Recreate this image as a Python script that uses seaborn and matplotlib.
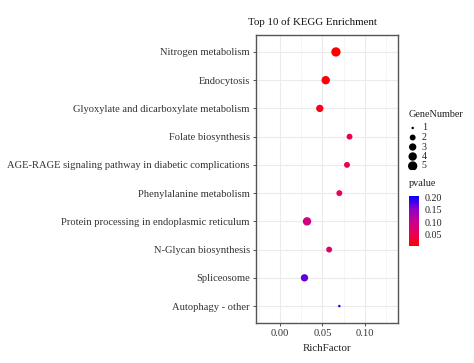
import numpy as np
import pandas as pd
import matplotlib
matplotlib.use("Agg")
import matplotlib.pyplot as plt
import seaborn as sns
from matplotlib.colors import LinearSegmentedColormap, Normalize
from matplotlib.cm import ScalarMappable

# ---- data ----
pathways = [
    "Nitrogen metabolism",
    "Endocytosis",
    "Glyoxylate and dicarboxylate metabolism",
    "Folate biosynthesis",
    "AGE-RAGE signaling pathway in diabetic complications",
    "Phenylalanine metabolism",
    "Protein processing in endoplasmic reticulum",
    "N-Glycan biosynthesis",
    "Spliceosome",
    "Autophagy - other",
]
rich_factor = [0.066, 0.054, 0.047, 0.082, 0.079, 0.070, 0.032, 0.058, 0.029, 0.070]
gene_number = [5, 4, 3, 2, 2, 2, 4, 2, 3, 1]
pvalue = [0.005, 0.010, 0.020, 0.050, 0.052, 0.055, 0.090, 0.070, 0.170, 0.200]
size_levels = [1, 2, 3, 4, 5]
pvalue_ticks = [0.05, 0.10, 0.15, 0.20]

df = pd.DataFrame({"Pathway": pathways, "RichFactor": rich_factor,
                   "GeneNumber": gene_number, "pvalue": pvalue})

# ggplot-like red -> blue gradient (Lab interpolation gives magenta/purple mids)
cmap = LinearSegmentedColormap.from_list(
    "rb", ["#FF0000", "#E8005A", "#C60092", "#8A00CC", "#0000FF"])
pnorm = (0.004, 0.205)


def dot_area(g):
    # area-style size scale: diameter in px, converted to points^2
    d_px = 2.5 + 6.8 * np.sqrt((g - 1) / 4.0)
    return (d_px * 0.72) ** 2


size_map = {g: dot_area(g) for g in size_levels}

plt.rcParams["font.family"] = ["Liberation Serif", "DejaVu Serif"]
fig = plt.figure(figsize=(4.74, 3.63), dpi=100)
ax = fig.add_axes([256 / 474, 1 - 323 / 363, 142 / 474, 288 / 363])

sns.scatterplot(data=df, x="RichFactor", y="Pathway", hue="pvalue",
                size="GeneNumber", sizes=size_map, palette=cmap,
                hue_norm=pnorm, linewidth=0, legend=False, ax=ax, zorder=3)

ax.set_xlim(-0.028, 0.139)
ax.set_ylim(len(pathways) - 0.4, -0.6)
ax.set_xticks([0.0, 0.05, 0.10])
ax.set_xticklabels(["0.00", "0.05", "0.10"])
ax.set_xticks([-0.025, 0.025, 0.075, 0.125], minor=True)
ax.grid(True, which="major", color="#EBEBEB", linewidth=0.8, zorder=0)
ax.grid(True, which="minor", axis="x", color="#F2F2F2", linewidth=0.5, zorder=0)
ax.set_axisbelow(True)
for s in ax.spines.values():
    s.set_color("#555555")
    s.set_linewidth(1.0)
ax.tick_params(axis="both", which="major", length=2.5, width=0.6, color="#333333",
               labelsize=7.6, labelcolor="#333333", pad=2)
ax.tick_params(axis="x", which="minor", length=0)
ax.set_xlabel("RichFactor", fontsize=7.8, color="#222222", labelpad=4)
ax.set_ylabel("")

fig.text(248 / 474, 1 - 22 / 363, "Top 10 of KEGG Enrichment", fontsize=7.8,
         color="#111111", ha="left", va="center")

# ---- size legend ----
fig.text(409 / 474, 1 - 114 / 363, "GeneNumber", fontsize=7.4, color="#222222",
         ha="left", va="center")
lax = fig.add_axes([405 / 474, 1 - 170 / 363, 30 / 474, 47 / 363])
leg_y = [128, 137.5, 147, 156.5, 166]
sns.scatterplot(x=[0] * len(size_levels), y=leg_y, size=size_levels,
                sizes=size_map, color="black", linewidth=0, legend=False, ax=lax)
for g, y in zip(size_levels, leg_y):
    lax.text(1.3, y, str(g), fontsize=7.2, color="#222222", va="center", ha="left")
lax.set_xlim(-1.1, 3.2)
lax.set_ylim(170, 123)
lax.axis("off")

# ---- colour legend ----
fig.text(409 / 474, 1 - 183 / 363, "pvalue", fontsize=7.4, color="#222222",
         ha="left", va="center")
cax = fig.add_axes([409 / 474, 1 - 246 / 363, 10 / 474, 50 / 363])
cb = fig.colorbar(ScalarMappable(norm=Normalize(*pnorm), cmap=cmap), cax=cax)
cb.outline.set_visible(False)
cb.set_ticks(pvalue_ticks)
cb.set_ticklabels(["0.05", "0.10", "0.15", "0.20"])
cax.tick_params(length=2, width=0.5, color="white", labelsize=7.2,
                labelcolor="#222222", pad=2)

fig.savefig("out.png", dpi=100, facecolor="white")
